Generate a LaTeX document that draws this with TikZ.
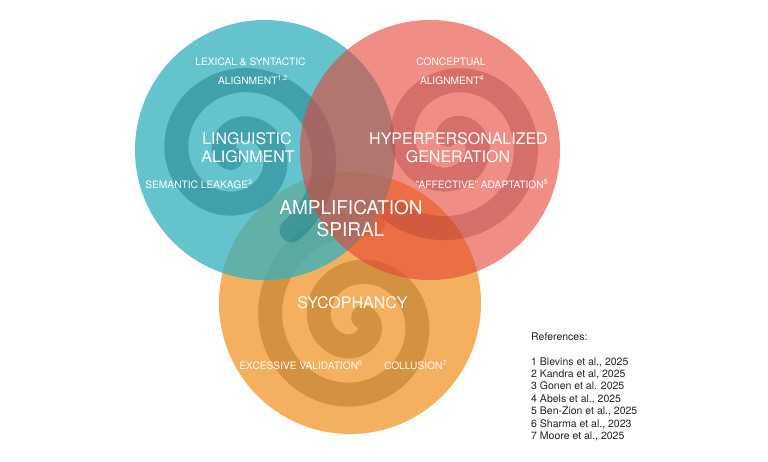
\documentclass[tikz,border=0pt]{standalone}
\usepackage{fontspec}
\setmainfont{TeX Gyre Heros}

% circle fills and spiral bands
\definecolor{orangefill}{RGB}{244,176,94}
\definecolor{orangeband}{RGB}{212,146,64}
\definecolor{tealfill}{RGB}{54,178,191}
\definecolor{tealband}{RGB}{16,116,130}
\definecolor{salmonfill}{RGB}{230,67,53}
\definecolor{salmonband}{RGB}{166,56,54}
\definecolor{reftext}{RGB}{34,34,34}

\begin{document}
\begin{tikzpicture}[x=1pt,y=-1pt,
  band/.style={line width=24pt, line cap=round, line join=round},
  maintitle/.style={text=white, inner sep=0pt, anchor=base,
    font=\fontsize{16}{18}\selectfont},
  bigtitle/.style={text=white, inner sep=0pt, anchor=base,
    font=\fontsize{19}{22}\selectfont},
  sublabel/.style={text=white, inner sep=0pt, anchor=base,
    font=\fontsize{10.2}{12}\selectfont},
  refline/.style={text=reftext, inner sep=0pt, anchor=base west,
    font=\fontsize{10.5}{12.4}\selectfont}]
\useasboundingbox (0,0) rectangle (768,461);
\fill[white] (0,0) rectangle (768,461);

\coordinate (tealC) at (265,150);
\coordinate (salmonC) at (430,150);
\coordinate (orangeC) at (350,303);

% bottom layer: orange circle with its spiral
\fill[orangefill] (orangeC) circle (131);
\begin{scope}
  \clip (orangeC) circle (131);
  \draw[band, orangeband] plot[domain=-28:640, samples=260, variable=\t]
    ({356 + 0.1361*(\t+88)*cos(\t)}, {321 + 0.1361*(\t+88)*sin(\t)});
\end{scope}

% middle layer: teal circle with its spiral
\fill[tealfill, fill opacity=0.77] (tealC) circle (130);
\begin{scope}
  \clip (tealC) circle (130);
  \draw[band, tealband, draw opacity=0.42] plot[domain=150:775, samples=260, variable=\t]
    ({238 + 0.1361*(\t-90)*cos(\t)}, {154 + 0.1361*(\t-90)*sin(\t)});
\end{scope}

% top layer: salmon circle with its spiral
\fill[salmonfill, fill opacity=0.6] (salmonC) circle (130);
\begin{scope}
  \clip (salmonC) circle (130);
  \draw[band, salmonband, draw opacity=0.35] plot[domain=240:850, samples=260, variable=\t]
    ({452 + 0.1361*(\t-180)*cos(\t)}, {142 + 0.1361*(\t-180)*sin(\t)});
\end{scope}

% linguistic alignment
\node[sublabel] (lexA) at (250.5,65) {LEXICAL \& SYNTACTIC};
\node[sublabel] (lexB) at (253,84) {ALIGNMENT\textsuperscript{1,2}};
\node[maintitle] (lingA) at (247,144) {LINGUISTIC};
\node[maintitle] (lingB) at (248,162) {ALIGNMENT};
\node[sublabel] (leak) at (199,188) {SEMANTIC LEAKAGE\textsuperscript{3}};

% hyperpersonalized generation
\node[sublabel] (concA) at (451,65) {CONCEPTUAL};
\node[sublabel] (concB) at (452,84) {ALIGNMENT\textsuperscript{4}};
\node[maintitle] (hypA) at (458.5,144) {HYPERPERSONALIZED};
\node[maintitle] (hypB) at (458,162) {GENERATION};
\node[sublabel] (affect) at (482,188) {"AFFECTIVE" ADAPTATION\textsuperscript{5}};

% centre
\node[bigtitle] (ampA) at (351,214) {AMPLIFICATION};
\node[bigtitle] (ampB) at (350.5,236) {SPIRAL};

% sycophancy
\node[maintitle] (syco) at (352.5,308) {SYCOPHANCY};
\node[sublabel] (excess) at (301,369) {EXCESSIVE VALIDATION\textsuperscript{6}};
\node[sublabel] (collu) at (415.5,369) {COLLUSION\textsuperscript{7}};

% reference list
\node[refline] (refhead) at (531,340) {References:};
\node[refline] (ref1) at (531,365) {1 Blevins et al., 2025};
\node[refline] (ref2) at (531,377.4) {2 Kandra et al, 2025};
\node[refline] (ref3) at (531,389.8) {3 Gonen et al. 2025};
\node[refline] (ref4) at (531,402.2) {4 Abels et al., 2025};
\node[refline] (ref5) at (531,414.6) {5 Ben-Zion et al., 2025};
\node[refline] (ref6) at (531,427) {6 Sharma et al., 2023};
\node[refline] (ref7) at (531,439.4) {7 Moore et al., 2025};
\end{tikzpicture}
\end{document}
